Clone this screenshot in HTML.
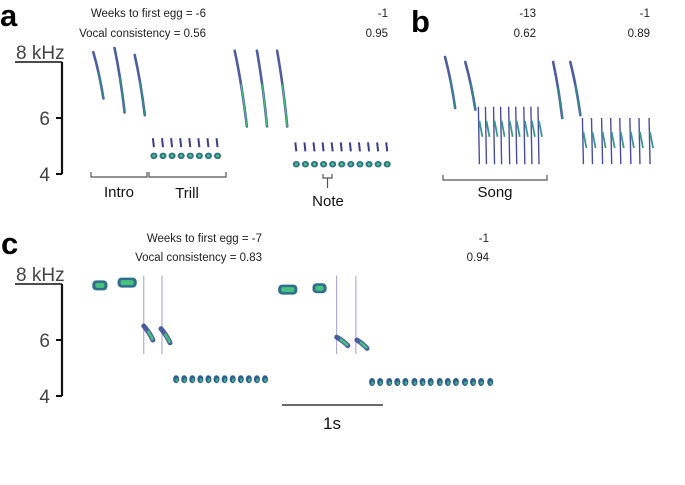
<!DOCTYPE html>
<html><head><meta charset="utf-8"><style>
html,body{margin:0;padding:0;background:#fff}
svg{display:block;font-family:"Liberation Sans",Arial,sans-serif}
</style></head><body>
<svg id="fig" width="685" height="485" viewBox="0 0 685 485">
<g font-weight="bold" font-size="31" fill="#000">
<text x="0" y="26">a</text>
<text x="411" y="32">b</text>
<text x="1" y="254">c</text>
</g>
<g font-size="11.5" fill="#222">
<text x="206" y="17" text-anchor="end">Weeks to first egg = -6</text>
<text x="206" y="37" text-anchor="end">Vocal consistency = 0.56</text>
<text x="388" y="17" text-anchor="end">-1</text>
<text x="388" y="37" text-anchor="end">0.95</text>
<text x="536" y="17" text-anchor="end">-13</text>
<text x="536" y="37" text-anchor="end">0.62</text>
<text x="650" y="17" text-anchor="end">-1</text>
<text x="650" y="37" text-anchor="end">0.89</text>
<text x="262" y="242" text-anchor="end">Weeks to first egg = -7</text>
<text x="262" y="261" text-anchor="end">Vocal consistency = 0.83</text>
<text x="489" y="242" text-anchor="end">-1</text>
<text x="489" y="261" text-anchor="end">0.94</text>
</g>
<g stroke="#555" stroke-width="1.2" fill="none">
<path d="M91 172 V177 H147 V172"/>
<path d="M149 172 V177 H226 V172"/>
<path d="M323 174 V178 H332 V174 M327.5 178 V188"/>
<path d="M443 175 V180 H547 V175"/>
</g>
<g font-size="15" fill="#111" text-anchor="middle">
<text x="119" y="197">Intro</text>
<text x="187" y="198">Trill</text>
<text x="328" y="206">Note</text>
<text x="495" y="197">Song</text>
</g>
<g>
<line x1="282" y1="405" x2="383" y2="405" stroke="#111" stroke-width="1.3"/>
<text x="332" y="429" font-size="17" text-anchor="middle" fill="#111">1s</text>
</g>
<g id="axes"></g>
<g id="marks"></g>
</svg>
<script>
const freqTicks = [8, 6, 4];
const freqTickLabels = ["8 kHz", "6", "4"];
const aSweeps = [[0.31,8.35,0.41,6.7],[0.52,8.5,0.62,6.2],[0.72,8.25,0.82,6.1],[1.71,8.4,1.83,5.7],[1.93,8.4,2.03,5.7],[2.13,8.4,2.23,5.7]];
const aTrill1Times = [0.90,0.99,1.08,1.17,1.26,1.35,1.44,1.53];
const aTrill1Freqs = [5.1, 4.65];
const aTrill2Times = [2.31,2.40,2.49,2.58,2.67,2.76,2.85,2.94,3.03,3.12,3.21];
const aTrill2Freqs = [4.95, 4.35];
const bSweeps = [[0.05,8.18,0.15,6.36],[0.25,8.0,0.35,6.3],[1.12,8.0,1.21,6.0],[1.29,8.0,1.39,6.1]];
const bTrill1Times = [0.38,0.45,0.53,0.60,0.68,0.75,0.83,0.90,0.97];
const bTrill1Range = [6.4, 4.35];
const bTrill2Times = [1.41,1.50,1.60,1.69,1.78,1.88,1.97,2.07];
const bTrill2Range = [6.0, 4.35];
const cBlobs = [[0.30,0.45,7.95],[0.55,0.74,8.05],[2.14,2.33,7.8],[2.48,2.62,7.85]];
const cSweeps = [[0.81,6.5,0.90,6.0],[0.98,6.4,1.07,5.9],[2.72,6.1,2.83,5.8],[2.92,6.0,3.02,5.7]];
const cStreakTimes = [0.81,0.99,2.72,2.91];
const cTrill1Times = [1.13,1.21,1.29,1.37,1.45,1.53,1.61,1.69,1.77,1.85,1.93,2.01];
const cTrill1Freq = 4.6;
const cTrill2Times = [3.07,3.15,3.24,3.32,3.40,3.49,3.57,3.65,3.74,3.82,3.90,3.99,4.07,4.15,4.24];
const cTrill2Freq = 4.5;

const NS = "http://www.w3.org/2000/svg";
const axesG = document.getElementById('axes');
const marksG = document.getElementById('marks');
const PX_PER_S = 101, PX_PER_KHZ = 28;
function xScale(x0){ return t => x0 + t * PX_PER_S; }
function yScale(y8){ return f => y8 + (8 - f) * PX_PER_KHZ; }
function mk(tag, attrs, parent){
  const e = document.createElementNS(NS, tag);
  for (const k in attrs) e.setAttribute(k, attrs[k]);
  parent.appendChild(e); return e;
}
function drawAxis(y8, name){
  const Y = yScale(y8);
  const g = mk('g', {}, axesG);
  
  
  mk('line', {x1:62, x2:62, y1:Y(8), y2:Y(4), stroke:'#111', 'stroke-width':2.2}, g);
  mk('line', {x1:15, x2:62, y1:Y(8), y2:Y(8), stroke:'#111', 'stroke-width':1.5}, g);
  freqTicks.forEach((f, i) => {
    if (i > 0) mk('line', {x1:56, x2:62, y1:Y(f), y2:Y(f), stroke:'#111', 'stroke-width':2}, g);
    const t = mk('text', {x: i === 0 ? 16 : 50, y: i === 0 ? Y(f) - 3 : Y(f) + 7, 'font-size': 19, fill:'#444', 'text-anchor': i === 0 ? 'start' : 'end'}, g);
    t.textContent = freqTickLabels[i];
    
    
  });
}
drawAxis(62, 'panel-a-frequency-axis');
drawAxis(284, 'panel-c-frequency-axis');

function sweep(X, Y, s, green, w){
  const g = mk('g', {}, marksG);
  
  
  const x0 = X(s[0]), y0 = Y(s[1]), x1 = X(s[2]), y1 = Y(s[3]);
  const d = `M${x0} ${y0} Q${x0 + (x1-x0)*0.6} ${y0 + (y1-y0)*0.45} ${x1} ${y1}`;
  mk('path', {d, stroke:'#3b4b96', 'stroke-width':w || 2.6, fill:'none', 'stroke-linecap':'round', opacity:0.9}, g);
  mk('path', {d, stroke: green ? '#45c27a' : '#2f8f8a', 'stroke-width':(w || 2.6) * 0.5, fill:'none', 'stroke-dasharray': '0 ' + (Math.abs(y1-y0)*0.45) + ' 100'}, g);
}
function trill(X, Y, times, fU, fL){
  times.forEach(t => {
    const g = mk('g', {}, marksG);
    
    
    const x = X(t);
    mk('path', {d:`M${x} ${Y(fU)-5} L${x+1} ${Y(fU)+4}`, stroke:'#3a3f8c', 'stroke-width':2, fill:'none'}, g);
    mk('ellipse', {cx:x+1, cy:Y(fL), rx:3.5, ry:3.2, fill:'#2c6f86'}, g);
    mk('ellipse', {cx:x+1, cy:Y(fL), rx:1.6, ry:1.6, fill:'#4bbf86'}, g);
  });
}
function streakTrill(X, Y, times, r){
  times.forEach(t => {
    const g = mk('g', {}, marksG);
    
    
    const x = X(t);
    mk('line', {x1:x, y1:Y(r[0]), x2:x+1, y2:Y(r[1]), stroke:'#4a4ea0', 'stroke-width':1.4}, g);
    mk('line', {x1:x+1, y1:Y(r[0])+14, x2:x+4, y2:Y(r[0])+30, stroke:'#3a9a8a', 'stroke-width':1.8}, g);
  });
}
{
  const X = xScale(62), Y = yScale(62);
  aSweeps.forEach((s, i) => sweep(X, Y, s, i >= 3));
  trill(X, Y, aTrill1Times, aTrill1Freqs[0], aTrill1Freqs[1]);
  trill(X, Y, aTrill2Times, aTrill2Freqs[0], aTrill2Freqs[1]);
}
{
  const X = xScale(440), Y = yScale(62);
  bSweeps.forEach(s => sweep(X, Y, s, false));
  streakTrill(X, Y, bTrill1Times, bTrill1Range);
  streakTrill(X, Y, bTrill2Times, bTrill2Range);
}
{
  const X = xScale(62), Y = yScale(284);
  cBlobs.forEach(b => {
    const r = mk('rect', {x:X(b[0]), y:Y(b[2])-5, width:X(b[1])-X(b[0]), height:10, rx:4, fill:'#2f6f8c'}, marksG);
    
    
    mk('rect', {x:X(b[0])+3, y:Y(b[2])-2.5, width:X(b[1])-X(b[0])-6, height:5, rx:2, fill:'#48c07e'}, marksG);
  });
  cStreakTimes.forEach(t => {
    const l = mk('line', {x1:X(t), x2:X(t), y1:Y(8.3), y2:Y(5.5), stroke:'#8a86c0', 'stroke-width':0.8}, marksG);
    
    
  });
  cSweeps.forEach(s => sweep(X, Y, s, true, 5));
  [[cTrill1Times, cTrill1Freq], [cTrill2Times, cTrill2Freq]].forEach(([ts, f]) => {
    ts.forEach(t => {
      const e = mk('ellipse', {cx:X(t), cy:Y(f), rx:3, ry:4, fill:'#2f5f8c'}, marksG);
      
      
      mk('ellipse', {cx:X(t)+0.5, cy:Y(f)+1, rx:1.3, ry:1.8, fill:'#3fae88'}, marksG);
    });
  });
}
</script>
</body></html>
